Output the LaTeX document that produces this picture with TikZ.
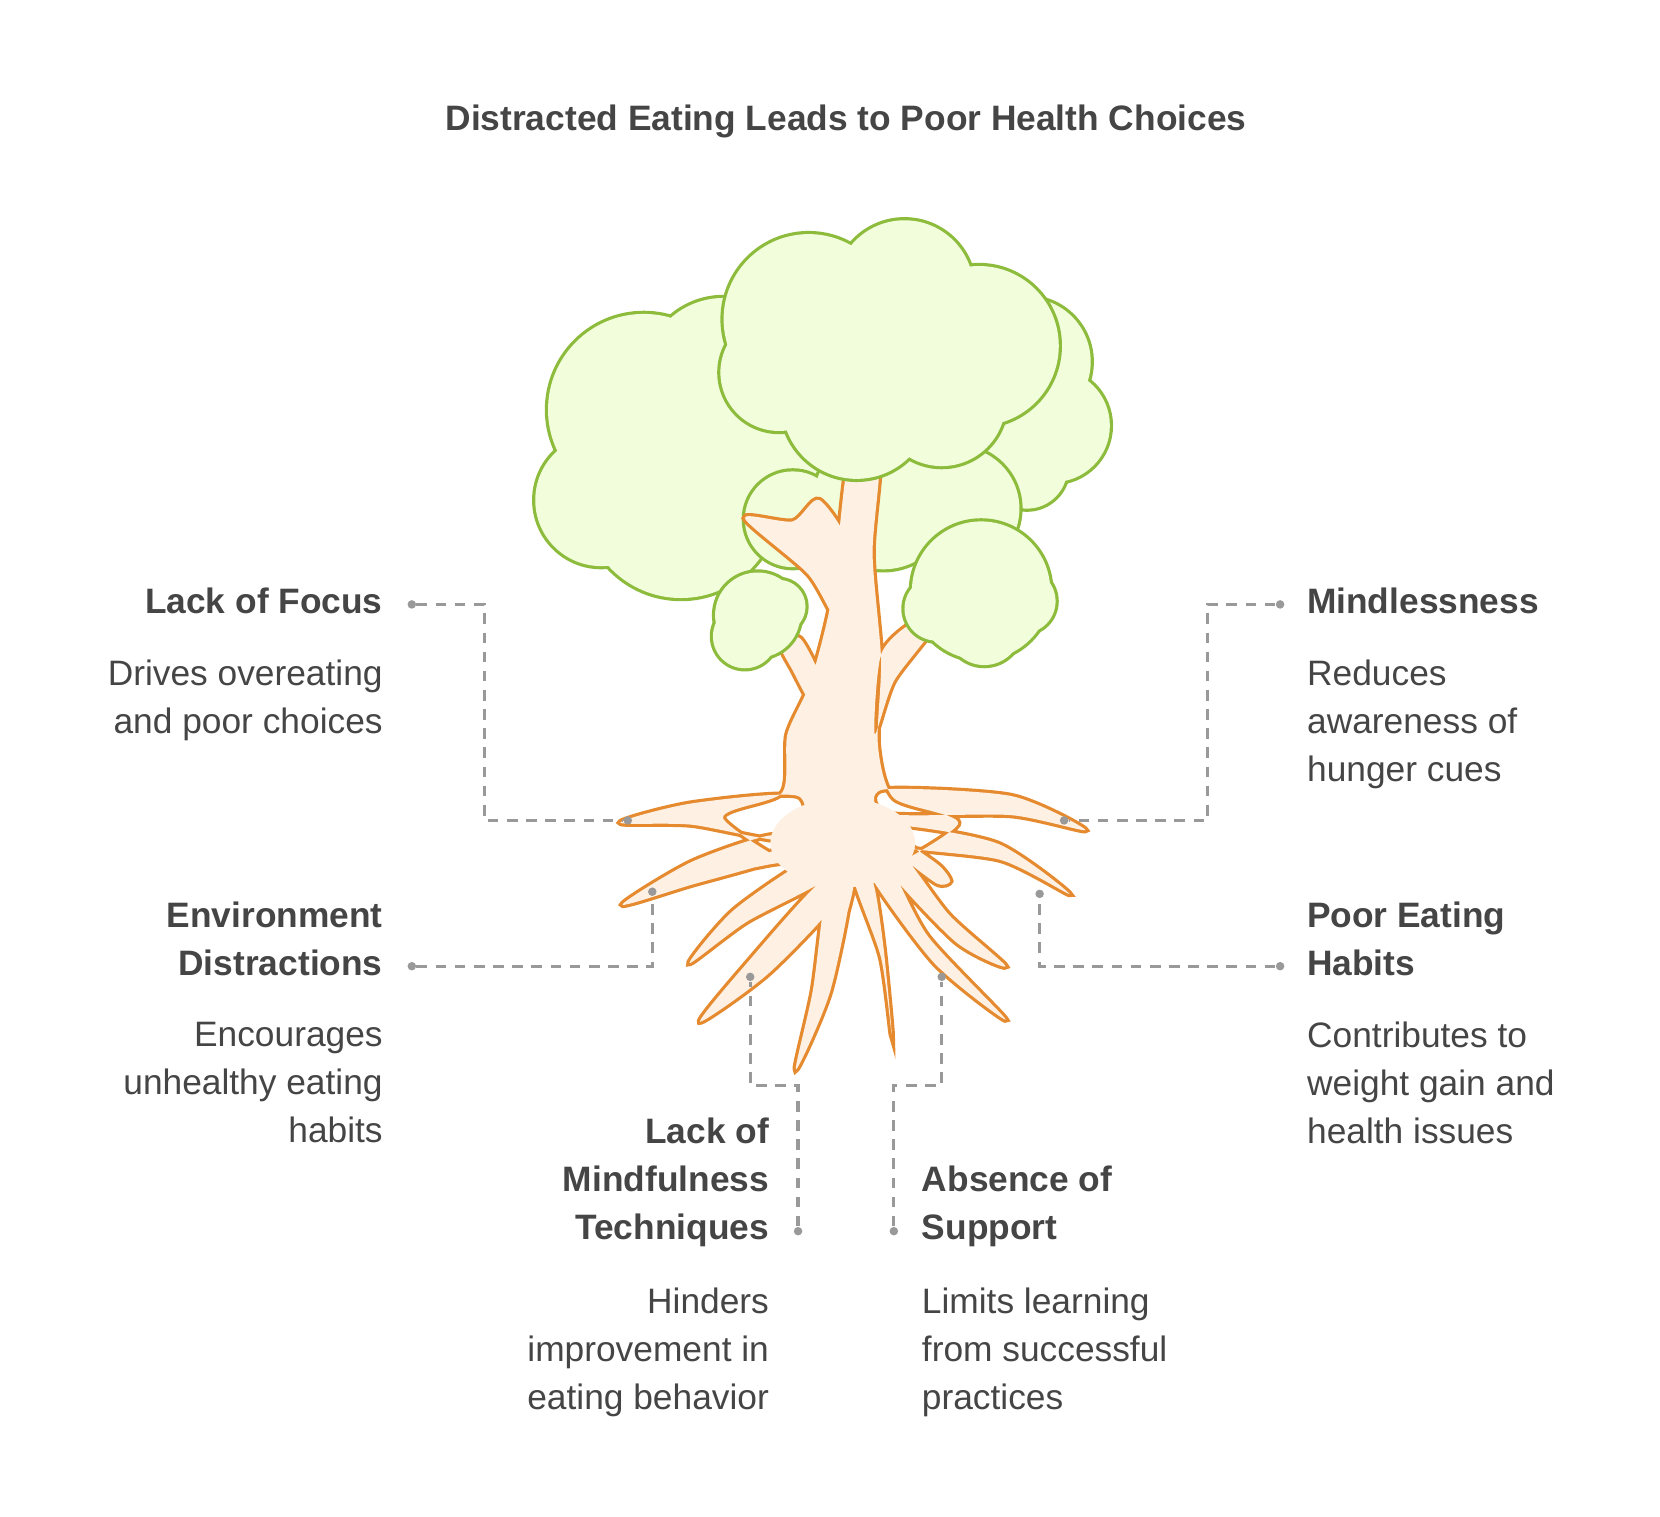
\documentclass[tikz,border=0pt]{standalone}
\usepackage{fontspec}
\setmainfont{Liberation Sans}
\definecolor{txt}{HTML}{454545}
\definecolor{gr}{HTML}{8DBB3C}
\definecolor{grf}{HTML}{F1FDDB}
\definecolor{or}{HTML}{E58A2E}
\definecolor{orf}{HTML}{FEF0E3}
\definecolor{dashgray}{HTML}{999999}
\begin{document}
\begin{tikzpicture}[x=0.5pt,y=-0.5pt,
  hd/.style={font=\fontsize{16.6}{22.5}\selectfont\bfseries,text=txt,inner sep=0pt},
  bd/.style={font=\fontsize{16.6}{22.5}\selectfont,text=txt,inner sep=0pt},
  con/.style={draw=dashgray,line width=1.5pt,dash pattern=on 5pt off 4pt},
  dot/.style={circle,fill=dashgray,inner sep=0pt,minimum size=4pt}]
\useasboundingbox (0,0) rectangle (1560,1425);
\newcommand{\crownline}[1]{\foreach \x/\y/\r in {#1}{\draw[gr,line width=3pt] (\x,\y) circle[radius=\r*0.5pt];}}
\newcommand{\crownfill}[1]{\foreach \x/\y/\r in {#1}{\fill[grf] (\x,\y) circle[radius=\r*0.5pt];}}
\newcommand{\crown}[1]{\crownline{#1}\crownfill{#1}}
\node[hd,anchor=north] (title) at (795,98) {Distracted Eating Leads to Poor Health Choices};
% back crowns
\crown{605/385/90, 680/355/75, 565/470/62, 640/470/92, 720/430/55}
\crown{965/340/60, 990/400/53, 930/425/55, 965/440/38}
\crown{830/470/65, 900/478/58, 745/488/45}
% trunk and roots
\tikzset{pl/.style={smooth cycle,tension=0.45}}
\def\trunk{plot[pl] coordinates {(798,430) (826,430) (820,520) (828,620) (825,700) (840,750) (900,775) (790,830) (680,770) (735,745) (740,690) (762,640) (782,560)}}
\def\branches{
 plot[pl] coordinates {(700,487) (745,490) (770,470) (800,518) (792,590) (760,540)}
 plot[pl] coordinates {(733,605) (752,600) (772,640) (765,665) (745,630)}
 plot[pl] coordinates {(877,590) (858,585) (828,615) (822,690) (840,640)}}
\def\roots{
 plot[pl] coordinates {(750,748) (650,755) (583,773) (650,775) (745,790)}
 plot[pl] coordinates {(725,785) (650,810) (585,850) (648,832) (738,805)}
 plot[pl] coordinates {(758,792) (720,802) (690,818) (725,812) (762,806)}
 plot[pl] coordinates {(765,805) (690,855) (648,905) (702,866) (778,825)}
 plot[pl] coordinates {(772,828) (702,905) (658,960) (722,915) (788,845)}
 plot[pl] coordinates {(778,830) (764,930) (748,1005) (780,932) (800,830)}
 plot[pl] coordinates {(786,825) (772,880) (778,912) (792,872) (802,830)}
 plot[pl] coordinates {(803,828) (828,900) (838,972) (830,888) (820,828)}
 plot[pl] coordinates {(815,818) (878,905) (945,958) (872,880) (834,810)}
 plot[pl] coordinates {(830,812) (898,885) (945,908) (892,860) (848,803)}
 plot[pl] coordinates {(842,800) (880,830) (893,828) (882,813) (850,792)}
 plot[pl] coordinates {(840,795) (940,808) (1005,840) (938,793) (845,776)}
 plot[pl] coordinates {(835,765) (950,766) (1020,780) (950,748) (830,742)}}
\draw[or,line width=3pt] \trunk \branches \roots;
\fill[orf] \trunk \branches \roots;
\fill[orf] (792,792) ellipse[x radius=34pt,y radius=21pt];
% front crowns
\crown{760/300/80, 850/272/65, 920/325/75, 805/380/70, 885/378/60, 732/350/55}
\crown{712/578/40, 700/598/30, 732/570/25}
\crown{922/555/65, 880/572/30, 962/565/30, 925/590/35}
% connectors
\node[dot] (d1) at (387,568) {}; \node[dot] (r1) at (590,771) {};
\node[dot] (d2) at (1203,568) {}; \node[dot] (r2) at (1000,771) {};
\node[dot] (d3) at (387,908) {}; \node[dot] (r3) at (613,838) {};
\node[dot] (d4) at (1203,908) {}; \node[dot] (r4) at (977,840) {};
\node[dot] (d5) at (750,1157) {}; \node[dot] (r5) at (705,918) {};
\node[dot] (d6) at (840,1157) {}; \node[dot] (r6) at (885,918) {};
\coordinate (m5) at (750,1020); \coordinate (m6) at (840,1020);
\draw[con] (d1) -- (455,568) |- (r1);
\draw[con] (d2) -- (1135,568) |- (r2);
\draw[con] (d3) -| (r3);
\draw[con] (d4) -| (r4);
\draw[con] (d5) -- (m5) -| (r5);
\draw[con] (d6) -- (m6) -| (r6);
% texts
\node[hd,anchor=north east,align=right] (h1) at (360,552) {Lack of Focus};
\node[bd,anchor=north east,align=right] (b1) at (360,620) {Drives overeating\\and poor choices};
\node[hd,anchor=north west,align=left] (h2) at (1228,552) {Mindlessness};
\node[bd,anchor=north west,align=left] (b2) at (1228,620) {Reduces\\awareness of\\hunger cues};
\node[hd,anchor=north east,align=right] (h3) at (360,847) {Environment\\Distractions};
\node[bd,anchor=north east,align=right] (b3) at (360,960) {Encourages\\unhealthy eating\\habits};
\node[hd,anchor=north west,align=left] (h4) at (1228,847) {Poor Eating\\Habits};
\node[bd,anchor=north west,align=left] (b4) at (1228,960) {Contributes to\\weight gain and\\health issues};
\node[hd,anchor=north east,align=right] (h5) at (723,1050) {Lack of\\Mindfulness\\Techniques};
\node[bd,anchor=north east,align=right] (b5) at (723,1210) {Hinders\\improvement in\\eating behavior};
\node[hd,anchor=north west,align=left] (h6) at (866,1095) {Absence of\\Support};
\node[bd,anchor=north west,align=left] (b6) at (866,1210) {Limits learning\\from successful\\practices};
\end{tikzpicture}
\end{document}
